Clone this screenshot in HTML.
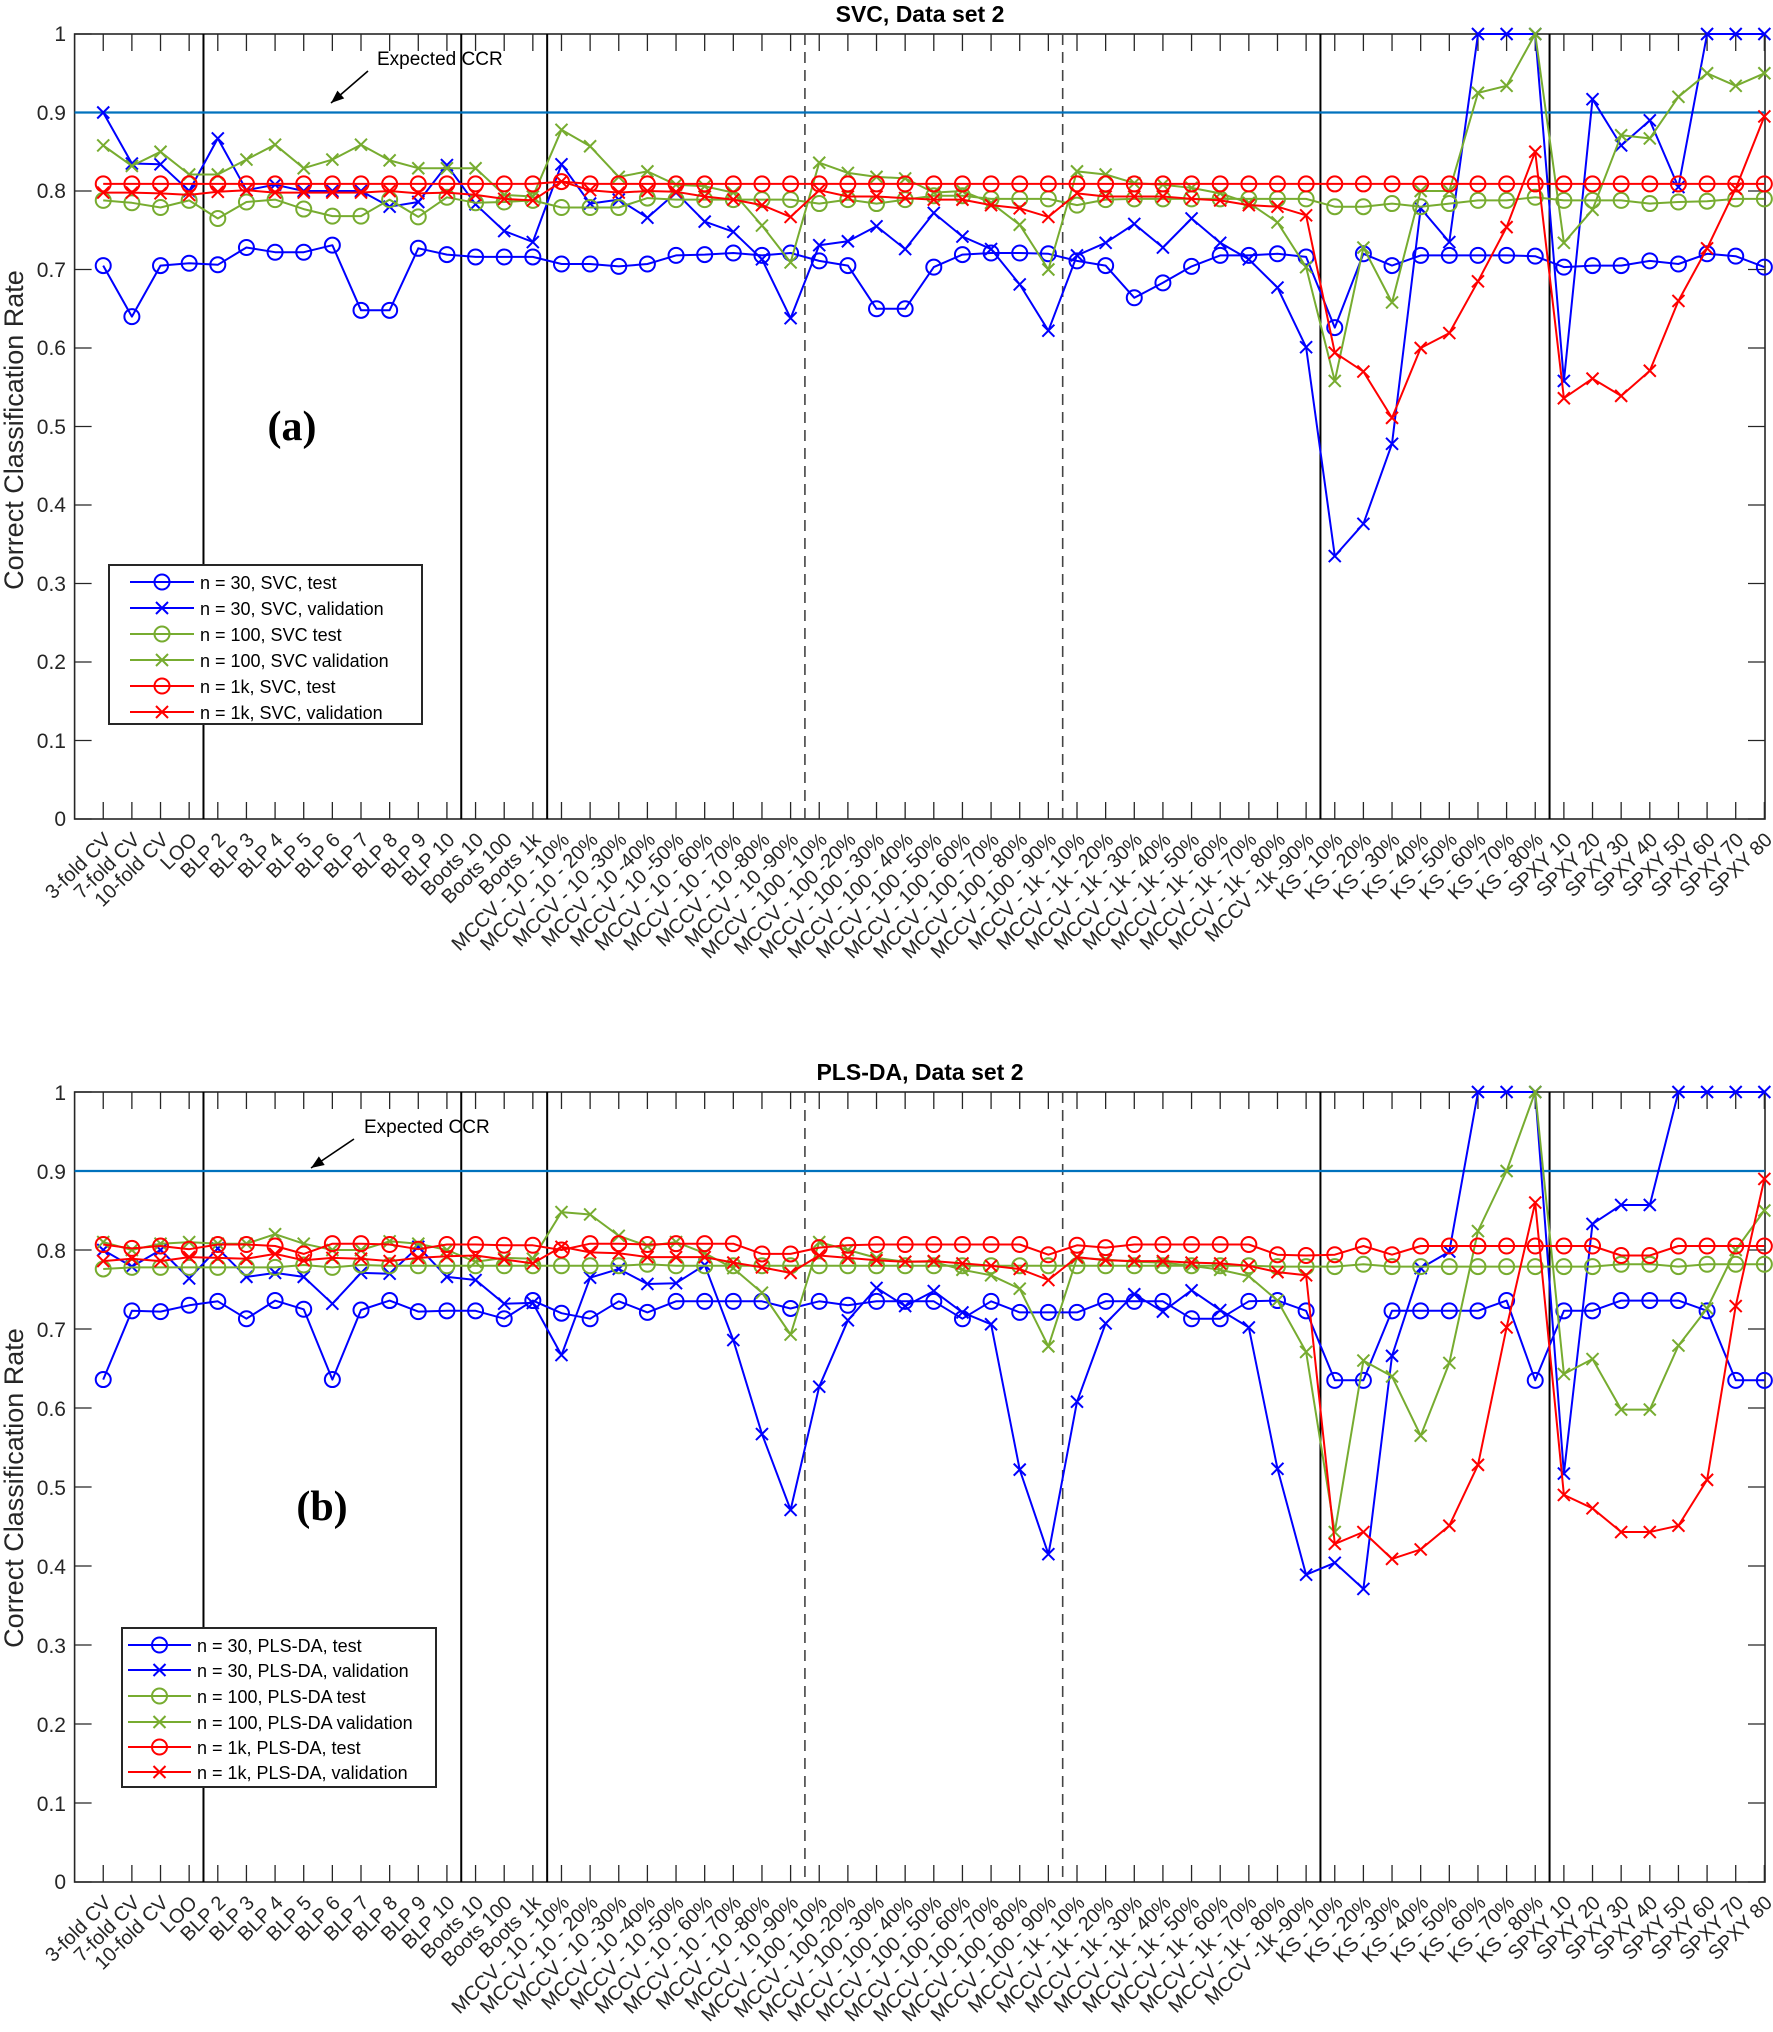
<!DOCTYPE html>
<html><head><meta charset="utf-8"><style>
html,body{margin:0;padding:0;background:#fff;}
svg{display:block;font-family:"Liberation Sans",Arial,sans-serif;}
.xl{font-size:20px;fill:#262626;}
.yl{font-size:21px;fill:#262626;text-anchor:end;}
.lg{font-size:18px;fill:#000;}
</style></head><body>
<svg id="s" width="1773" height="2032" viewBox="0 0 1773 2032" xmlns="http://www.w3.org/2000/svg">
<rect width="1773" height="2032" fill="#fff"/>
<g id="plots"></g>
<text x="920" y="22" font-size="23" font-weight="bold" text-anchor="middle" fill="#000">SVC, Data set 2</text>
<text x="920" y="1080" font-size="23" font-weight="bold" text-anchor="middle" fill="#000">PLS-DA, Data set 2</text>
<text transform="translate(23,430) rotate(-90)" font-size="27" text-anchor="middle" fill="#262626">Correct Classification Rate</text>
<text transform="translate(23,1488) rotate(-90)" font-size="27" text-anchor="middle" fill="#262626">Correct Classification Rate</text>
<text x="292" y="440" font-family="Liberation Serif,serif" font-size="42" font-weight="bold" text-anchor="middle">(a)</text>
<text x="322" y="1520" font-family="Liberation Serif,serif" font-size="42" font-weight="bold" text-anchor="middle">(b)</text>
<text x="377" y="65" font-size="19" fill="#000">Expected CCR</text>
<text x="364" y="1133" font-size="19" fill="#000">Expected CCR</text>
<g class="yl">
<text x="66" y="41">1</text><text x="66" y="120">0.9</text><text x="66" y="198">0.8</text><text x="66" y="277">0.7</text><text x="66" y="355">0.6</text><text x="66" y="434">0.5</text><text x="66" y="512">0.4</text><text x="66" y="591">0.3</text><text x="66" y="669">0.2</text><text x="66" y="748">0.1</text><text x="66" y="826">0</text>
<text x="66" y="1100">1</text><text x="66" y="1179">0.9</text><text x="66" y="1258">0.8</text><text x="66" y="1337">0.7</text><text x="66" y="1416">0.6</text><text x="66" y="1495">0.5</text><text x="66" y="1574">0.4</text><text x="66" y="1653">0.3</text><text x="66" y="1732">0.2</text><text x="66" y="1811">0.1</text><text x="66" y="1889">0</text>
</g>
<g class="xl" text-anchor="end" id="xlabA">
<text>3-fold CV</text><text>7-fold CV</text><text>10-fold CV</text><text>LOO</text><text>BLP 2</text><text>BLP 3</text><text>BLP 4</text><text>BLP 5</text><text>BLP 6</text><text>BLP 7</text><text>BLP 8</text><text>BLP 9</text><text>BLP 10</text><text>Boots 10</text><text>Boots 100</text><text>Boots 1k</text><text>MCCV - 10 - 10%</text><text>MCCV - 10 - 20%</text><text>MCCV - 10 -30%</text><text>MCCV - 10 -40%</text><text>MCCV - 10 -50%</text><text>MCCV - 10 - 60%</text><text>MCCV - 10 - 70%</text><text>MCCV - 10 -80%</text><text>MCCV - 10 -90%</text><text>MCCV - 100 - 10%</text><text>MCCV - 100 -20%</text><text>MCCV - 100 - 30%</text><text>MCCV - 100 - 40%</text><text>MCCV - 100 - 50%</text><text>MCCV - 100 - 60%</text><text>MCCV - 100 - 70%</text><text>MCCV - 100 - 80%</text><text>MCCV - 100 - 90%</text><text>MCCV - 1k - 10%</text><text>MCCV - 1k - 20%</text><text>MCCV - 1k - 30%</text><text>MCCV - 1k - 40%</text><text>MCCV - 1k - 50%</text><text>MCCV - 1k - 60%</text><text>MCCV - 1k - 70%</text><text>MCCV - 1k - 80%</text><text>MCCV -1k -90%</text><text>KS - 10%</text><text>KS - 20%</text><text>KS - 30%</text><text>KS - 40%</text><text>KS - 50%</text><text>KS - 60%</text><text>KS - 70%</text><text>KS - 80%</text><text>SPXY 10</text><text>SPXY 20</text><text>SPXY 30</text><text>SPXY 40</text><text>SPXY 50</text><text>SPXY 60</text><text>SPXY 70</text><text>SPXY 80</text>
</g>
<g class="xl" text-anchor="end" id="xlabB">
<text>3-fold CV</text><text>7-fold CV</text><text>10-fold CV</text><text>LOO</text><text>BLP 2</text><text>BLP 3</text><text>BLP 4</text><text>BLP 5</text><text>BLP 6</text><text>BLP 7</text><text>BLP 8</text><text>BLP 9</text><text>BLP 10</text><text>Boots 10</text><text>Boots 100</text><text>Boots 1k</text><text>MCCV - 10 - 10%</text><text>MCCV - 10 - 20%</text><text>MCCV - 10 -30%</text><text>MCCV - 10 -40%</text><text>MCCV - 10 -50%</text><text>MCCV - 10 - 60%</text><text>MCCV - 10 - 70%</text><text>MCCV - 10 -80%</text><text>MCCV - 10 -90%</text><text>MCCV - 100 - 10%</text><text>MCCV - 100 -20%</text><text>MCCV - 100 - 30%</text><text>MCCV - 100 - 40%</text><text>MCCV - 100 - 50%</text><text>MCCV - 100 - 60%</text><text>MCCV - 100 - 70%</text><text>MCCV - 100 - 80%</text><text>MCCV - 100 - 90%</text><text>MCCV - 1k - 10%</text><text>MCCV - 1k - 20%</text><text>MCCV - 1k - 30%</text><text>MCCV - 1k - 40%</text><text>MCCV - 1k - 50%</text><text>MCCV - 1k - 60%</text><text>MCCV - 1k - 70%</text><text>MCCV - 1k - 80%</text><text>MCCV -1k -90%</text><text>KS - 10%</text><text>KS - 20%</text><text>KS - 30%</text><text>KS - 40%</text><text>KS - 50%</text><text>KS - 60%</text><text>KS - 70%</text><text>KS - 80%</text><text>SPXY 10</text><text>SPXY 20</text><text>SPXY 30</text><text>SPXY 40</text><text>SPXY 50</text><text>SPXY 60</text><text>SPXY 70</text><text>SPXY 80</text>
</g>
<g id="legA">
<rect x="109" y="565" width="313" height="159" fill="#fff" stroke="#262626" stroke-width="2"/>
<g class="lg"><text x="200" y="589">n = 30, SVC, test</text><text x="200" y="615">n = 30, SVC, validation</text><text x="200" y="641">n = 100, SVC test</text><text x="200" y="667">n = 100, SVC validation</text><text x="200" y="693">n = 1k, SVC, test</text><text x="200" y="719">n = 1k, SVC, validation</text></g>
</g>
<g id="legB">
<rect x="122" y="1628" width="314" height="159" fill="#fff" stroke="#262626" stroke-width="2"/>
<g class="lg"><text x="197" y="1652">n = 30, PLS-DA, test</text><text x="197" y="1677">n = 30, PLS-DA, validation</text><text x="197" y="1703">n = 100, PLS-DA test</text><text x="197" y="1729">n = 100, PLS-DA validation</text><text x="197" y="1754">n = 1k, PLS-DA, test</text><text x="197" y="1779">n = 1k, PLS-DA, validation</text></g>
</g>
<g id="legM"></g>
</svg>
<script>
(function(){
var NS="http://www.w3.org/2000/svg";
function el(p,t,a){var e=document.createElementNS(NS,t);for(var k in a)e.setAttribute(k,a[k]);p.appendChild(e);return e;}
var X0=74.6,DX=28.64,XR=1765;
function X(i){return X0+DX*i;}
var B='#0000ff',G='#77ac30',R='#ff0000';
var P1={y0:819,s:785,
bo:[0.705,0.64,0.705,0.708,0.706,0.728,0.722,0.722,0.731,0.648,0.648,0.727,0.719,0.716,0.716,0.716,0.707,0.707,0.704,0.707,0.718,0.719,0.721,0.718,0.721,0.711,0.705,0.65,0.65,0.703,0.719,0.721,0.721,0.72,0.711,0.705,0.664,0.683,0.704,0.718,0.718,0.72,0.716,0.626,0.72,0.705,0.718,0.718,0.718,0.718,0.717,0.703,0.705,0.705,0.711,0.707,0.72,0.717,0.703],
bx:[0.90,0.835,0.834,0.80,0.867,0.801,0.808,0.80,0.80,0.80,0.78,0.786,0.833,0.783,0.749,0.735,0.834,0.784,0.789,0.766,0.798,0.761,0.748,0.713,0.638,0.731,0.736,0.755,0.726,0.772,0.742,0.726,0.681,0.622,0.718,0.734,0.758,0.728,0.765,0.734,0.713,0.677,0.601,0.335,0.376,0.478,0.778,0.735,1,1,1,0.558,0.917,0.858,0.89,0.805,1,1,1],
go:[0.788,0.785,0.779,0.788,0.765,0.786,0.789,0.777,0.768,0.768,0.789,0.767,0.792,0.785,0.786,0.788,0.779,0.779,0.779,0.791,0.789,0.789,0.789,0.789,0.789,0.784,0.789,0.784,0.789,0.794,0.794,0.79,0.79,0.79,0.782,0.789,0.79,0.79,0.79,0.79,0.79,0.79,0.79,0.78,0.78,0.784,0.78,0.784,0.788,0.788,0.792,0.788,0.788,0.788,0.784,0.786,0.787,0.79,0.79],
gx:[0.858,0.832,0.85,0.821,0.821,0.84,0.859,0.829,0.84,0.859,0.839,0.829,0.829,0.829,0.795,0.793,0.878,0.857,0.818,0.825,0.808,0.806,0.798,0.756,0.709,0.836,0.823,0.818,0.816,0.798,0.80,0.785,0.757,0.70,0.825,0.821,0.81,0.808,0.804,0.797,0.785,0.76,0.703,0.558,0.728,0.658,0.80,0.80,0.925,0.934,1,0.734,0.776,0.871,0.867,0.92,0.95,0.934,0.95],
ro:null,
rx:[0.798,0.798,0.797,0.795,0.799,0.801,0.798,0.798,0.798,0.798,0.80,0.797,0.798,0.795,0.79,0.788,0.812,0.801,0.798,0.80,0.799,0.793,0.789,0.782,0.767,0.801,0.793,0.793,0.791,0.789,0.789,0.782,0.778,0.767,0.797,0.793,0.793,0.793,0.79,0.788,0.782,0.78,0.769,0.594,0.57,0.511,0.60,0.619,0.685,0.754,0.85,0.536,0.561,0.539,0.571,0.66,0.727,0.803,0.895]};
P1.ro=[];for(var i=0;i<59;i++)P1.ro.push(0.809);P1.ro[16]=0.812;
var P2={y0:1882,s:790,
bo:[0.636,0.723,0.722,0.73,0.735,0.713,0.736,0.725,0.636,0.724,0.736,0.722,0.723,0.723,0.713,0.736,0.72,0.713,0.735,0.721,0.735,0.735,0.735,0.735,0.726,0.735,0.73,0.735,0.735,0.735,0.713,0.735,0.721,0.721,0.721,0.735,0.735,0.735,0.713,0.713,0.735,0.736,0.723,0.635,0.635,0.723,0.723,0.723,0.723,0.736,0.635,0.723,0.723,0.736,0.736,0.736,0.723,0.635,0.635],
bx:[0.80,0.779,0.80,0.764,0.802,0.766,0.771,0.766,0.732,0.771,0.77,0.804,0.766,0.762,0.732,0.733,0.667,0.765,0.776,0.757,0.758,0.781,0.686,0.567,0.471,0.627,0.711,0.752,0.729,0.748,0.721,0.706,0.522,0.415,0.608,0.707,0.744,0.722,0.749,0.724,0.702,0.523,0.389,0.404,0.371,0.666,0.777,0.798,1,1,1,0.517,0.833,0.857,0.857,1,1,1,1],
go:[0.776,0.778,0.778,0.778,0.778,0.778,0.778,0.781,0.778,0.781,0.78,0.78,0.78,0.78,0.78,0.78,0.78,0.78,0.78,0.782,0.78,0.78,0.78,0.78,0.78,0.78,0.78,0.78,0.78,0.78,0.78,0.78,0.78,0.78,0.78,0.78,0.78,0.78,0.78,0.78,0.78,0.779,0.779,0.779,0.782,0.779,0.779,0.779,0.779,0.779,0.779,0.779,0.779,0.782,0.782,0.779,0.782,0.782,0.782],
gx:[0.81,0.80,0.808,0.81,0.808,0.808,0.82,0.808,0.80,0.80,0.811,0.808,0.80,0.785,0.79,0.789,0.848,0.845,0.818,0.805,0.81,0.796,0.777,0.746,0.693,0.81,0.80,0.79,0.785,0.785,0.775,0.768,0.751,0.678,0.79,0.788,0.785,0.784,0.78,0.775,0.767,0.736,0.671,0.443,0.66,0.64,0.565,0.657,0.824,0.90,1,0.643,0.662,0.598,0.598,0.679,0.726,0.80,0.85],
ro:[0.807,0.802,0.805,0.801,0.807,0.807,0.805,0.795,0.808,0.808,0.807,0.801,0.807,0.807,0.806,0.806,0.80,0.808,0.808,0.807,0.808,0.808,0.808,0.795,0.795,0.803,0.806,0.807,0.807,0.807,0.807,0.807,0.807,0.794,0.806,0.803,0.807,0.807,0.807,0.807,0.807,0.794,0.793,0.794,0.805,0.794,0.805,0.805,0.805,0.805,0.805,0.805,0.805,0.793,0.793,0.805,0.805,0.805,0.805],
rx:[0.786,0.789,0.786,0.791,0.79,0.789,0.795,0.787,0.79,0.789,0.786,0.79,0.792,0.793,0.788,0.783,0.804,0.797,0.796,0.791,0.791,0.791,0.784,0.778,0.771,0.793,0.79,0.787,0.785,0.786,0.783,0.78,0.776,0.762,0.791,0.787,0.786,0.786,0.784,0.783,0.78,0.772,0.768,0.428,0.443,0.409,0.421,0.451,0.528,0.702,0.86,0.49,0.473,0.443,0.443,0.451,0.509,0.729,0.89]};
var root=document.getElementById('plots');
function circ(g,x,y,c){el(g,'circle',{cx:x,cy:y,r:7.5,fill:'none',stroke:c,'stroke-width':2});}
function cross(g,x,y,c){var d=6;el(g,'path',{d:'M'+(x-d)+' '+(y-d)+'L'+(x+d)+' '+(y+d)+'M'+(x-d)+' '+(y+d)+'L'+(x+d)+' '+(y-d),stroke:c,'stroke-width':2,fill:'none'});}
function plot(P){
 var yT=P.y0-P.s,g=el(root,'g',{});
 function Y(v){return P.y0-P.s*v;}
 el(g,'rect',{x:X0,y:yT,width:XR-X0,height:P.s,fill:'none',stroke:'#262626','stroke-width':1.6});
 for(var i=1;i<=59;i++){var x=X(i);
  el(g,'line',{x1:x,y1:P.y0,x2:x,y2:P.y0-17,stroke:'#262626','stroke-width':1.3});
  el(g,'line',{x1:x,y1:yT,x2:x,y2:yT+17,stroke:'#262626','stroke-width':1.3});}
 for(var k=0;k<=10;k++){var y=Y(k/10);
  el(g,'line',{x1:X0,y1:y,x2:X0+17,y2:y,stroke:'#262626','stroke-width':1.3});
  el(g,'line',{x1:XR,y1:y,x2:XR-17,y2:y,stroke:'#262626','stroke-width':1.3});}
 [4.5,13.5,16.5,43.5,51.5].forEach(function(v){el(g,'line',{x1:X(v),y1:yT,x2:X(v),y2:P.y0,stroke:'#000','stroke-width':2});});
 [25.5,34.5].forEach(function(v){el(g,'line',{x1:X(v),y1:yT,x2:X(v),y2:P.y0,stroke:'#444','stroke-width':1.6,'stroke-dasharray':'11,7'});});
 el(g,'line',{x1:X0,y1:Y(0.9),x2:XR,y2:Y(0.9),stroke:'#0072bd','stroke-width':2.2});
 var S=[['bo',B,0],['bx',B,1],['go',G,0],['gx',G,1],['ro',R,0],['rx',R,1]];
 S.forEach(function(s){var d=P[s[0]],pts=[];
  for(var i=0;i<59;i++)pts.push(X(i+1).toFixed(1)+','+Y(d[i]).toFixed(1));
  el(g,'polyline',{points:pts.join(' '),fill:'none',stroke:s[1],'stroke-width':2,'stroke-linejoin':'round'});
  for(var i=0;i<59;i++){if(s[2])cross(g,X(i+1),Y(d[i]),s[1]);else circ(g,X(i+1),Y(d[i]),s[1]);}
 });
}
plot(P1);plot(P2);
function labs(id,y0){var t=document.getElementById(id).getElementsByTagName('text');
 for(var i=0;i<t.length;i++){t[i].setAttribute('transform','translate('+(X(i+1)+9).toFixed(1)+','+(y0+22)+') rotate(-45)');}}
labs('xlabA',819);labs('xlabB',1882);
var s=document.getElementById('s');
function arrow(x1,y1,x2,y2){el(s,'line',{x1:x1,y1:y1,x2:x2,y2:y2,stroke:'#000','stroke-width':1.6});
 var a=Math.atan2(y2-y1,x2-x1),L=14,w=0.38;
 el(s,'path',{d:'M'+x2+' '+y2+'L'+(x2-L*Math.cos(a-w))+' '+(y2-L*Math.sin(a-w))+'L'+(x2-L*Math.cos(a+w))+' '+(y2-L*Math.sin(a+w))+'Z',fill:'#000'});}
arrow(368,71,331,103);arrow(354,1139,311,1168);
var lm=document.getElementById('legM');
function leg(x1,x2,ys){var c=[B,B,G,G,R,R];
 for(var i=0;i<6;i++){el(lm,'line',{x1:x1,y1:ys[i],x2:x2,y2:ys[i],stroke:c[i],'stroke-width':2});
  var xm=(x1+x2)/2; if(i%2==0)circ(lm,xm,ys[i],c[i]);else cross(lm,xm,ys[i],c[i]);}}
leg(130,194,[582,608,634,660,686,712]);
leg(128,191,[1645,1670,1696,1722,1747,1772]);
})();
</script>
</body></html>
